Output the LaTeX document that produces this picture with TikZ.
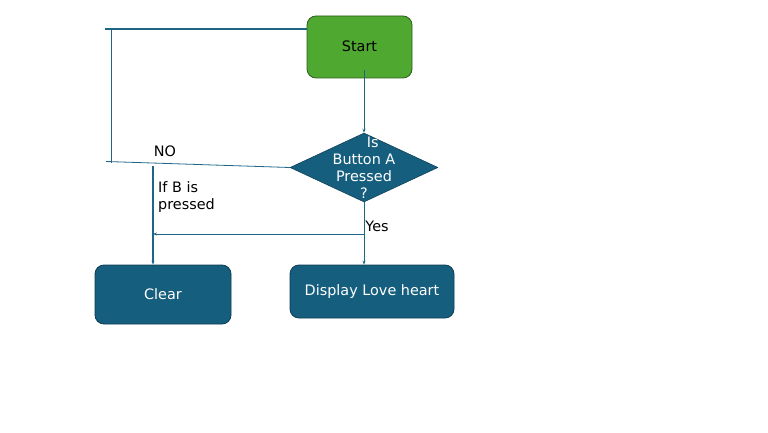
\documentclass[tikz,border=0pt]{standalone}
\usepackage{fontspec}
\setmainfont{DejaVu Sans}
\usetikzlibrary{shapes.geometric,arrows.meta}
\definecolor{gfill}{HTML}{4FA82F}
\definecolor{gdraw}{HTML}{2E5E1E}
\definecolor{bfill}{HTML}{155E7E}
\definecolor{bdraw}{HTML}{0E3C52}
\definecolor{lcol}{HTML}{1E6688}
\begin{document}
\begin{tikzpicture}[x=1pt,y=-1pt,
  every node/.style={font=\fontsize{14.4}{17}\selectfont},
  boxg/.style={draw=gdraw,fill=gfill,rounded corners=9pt,line width=0.8pt,inner sep=0pt},
  boxb/.style={draw=bdraw,fill=bfill,rounded corners=9pt,line width=0.8pt,inner sep=0pt,text=white},
  conn/.style={draw=lcol,line width=0.8pt},
  thick conn/.style={draw=lcol,line width=1.5pt},
  tip/.style={-{Stealth[length=4pt,width=3pt]}},
  lbl/.style={text=black,inner sep=0pt}]
\useasboundingbox (0,0) rectangle (768,433);
\fill[white] (0,0) rectangle (768,433);
\node[boxg,minimum width=105pt,minimum height=62pt] (start) at (359.5,47) {\raisebox{2pt}{Start}};
\node[diamond,fill=bfill,draw=bdraw,line width=0.5pt,minimum width=148pt,minimum height=69pt,inner sep=0pt,aspect=2.14] (dec) at (364,167.5) {};
\node[text=white,align=center,font=\fontsize{14.4}{17}\selectfont] (dectext) at (364,168) {\hspace*{1.2em}Is\\Button A\\Pressed\\?};
\node[boxb,minimum width=136pt,minimum height=59pt] (clear) at (163,294.5) {\raisebox{-2pt}{Clear}};
\node[boxb,minimum width=164pt,minimum height=53pt] (disp) at (372,291.5) {Display Love heart};
\coordinate (tl) at (105,29);
\coordinate (tv) at (111,29);
\coordinate (bv) at (111,163);
\coordinate (bl) at (106,161.5);
\coordinate (cb) at (153,166);
\coordinate (ch) at (153,234);
\coordinate (dh) at (364,234);
\coordinate (ss) at (364,70);
\draw[thick conn] (start.west |- 0,29) -- (tl);
\draw[conn] (tv) -- (bv);
\draw[conn] (dec.west) -- (bl);
\draw[conn,tip] (ss) -- (dec.north);
\draw[thick conn,tip] (cb) -- (clear.north -| cb);
\draw[conn,tip] (dec.south) -- (dec.south |- disp.north);
\draw[conn,tip] (dh) -- (ch);
\node[lbl] (no) at (165,151) {NO};
\node[lbl,align=left,anchor=west] (ifb) at (158,197.5) {If B is\\pressed};
\node[lbl] (yes) at (377,226) {Yes};
\end{tikzpicture}
\end{document}
